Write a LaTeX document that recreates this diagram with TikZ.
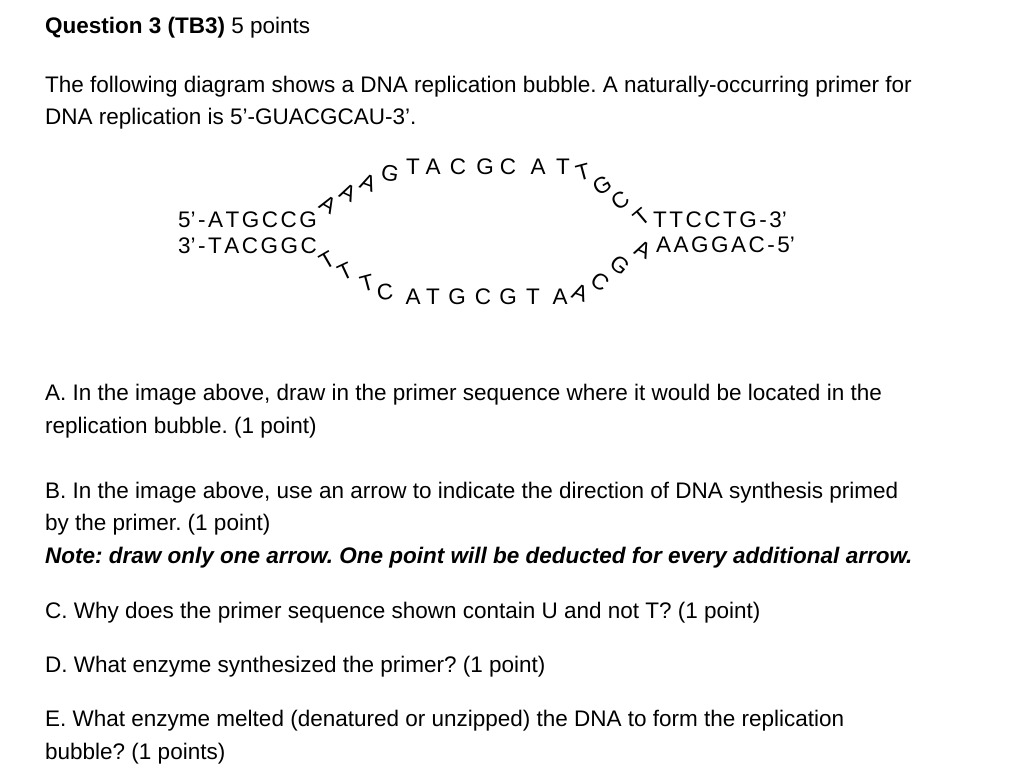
\documentclass[tikz,border=0pt]{standalone}
\usepackage{fontspec}
\setmainfont{Liberation Sans}
\frenchspacing
\begin{document}
\begin{tikzpicture}[x=1pt,y=-1pt,
  body/.style={anchor=base west,inner sep=0pt,font=\fontsize{22.5}{26}\selectfont},
  nt/.style={inner sep=0pt,font=\fontsize{22.5}{26}\selectfont},
  strand/.style={inner sep=0pt,font=\fontsize{22.5}{26}\selectfont}]
\useasboundingbox (0,0) rectangle (1024,783);
\fill[white] (0,0) rectangle (1024,783);
\node[body] (t0) at (45,34) {\textbf{Question 3 (TB3)} 5 points};
\node[body] (t1) at (45,93) {The following diagram shows a DNA replication bubble. A naturally-occurring primer for};
\node[body] (t2) at (45,125) {DNA replication is 5’-GUACGCAU-3’.};
\node[body] (t3) at (45,400) {A. In the image above, draw in the primer sequence where it would be located in the};
\node[body] (t4) at (45,433) {replication bubble. (1 point)};
\node[body] (t5) at (45,498) {B. In the image above, use an arrow to indicate the direction of DNA synthesis primed};
\node[body] (t6) at (45,530) {by the primer. (1 point)};
\node[body] (t7) at (45,563) {\textbf{\itshape Note: draw only one arrow. One point will be deducted for every additional arrow.}};
\node[body] (t8) at (45,618) {C. Why does the primer sequence shown contain U and not T? (1 point)};
\node[body] (t9) at (45,672) {D. What enzyme synthesized the primer? (1 point)};
\node[body] (t10) at (45,726) {E. What enzyme melted (denatured or unzipped) the DNA to form the replication};
\node[body] (t11) at (45,759) {bubble? (1 points)};
% flat strands
\def\sp{\hspace{2.5pt}}
\node[strand,anchor=east] (l1) at (317,220) {5’\sp-\sp A\sp T\sp G\sp C\sp C\sp G};
\node[strand,anchor=east] (l2) at (317,246) {3’\sp-\sp T\sp A\sp C\sp G\sp G\sp C};
\node[strand,anchor=west] (r1) at (653,220) {T\sp T\sp C\sp C\sp T\sp G\sp -\sp 3’};
\node[strand,anchor=west] (r2) at (656,245) {A\sp A\sp G\sp G\sp A\sp C\sp -\sp 5’};
% top arc
\foreach \c/\x/\y/\r [count=\i] in {A/328/205/-30,A/348/193/-25,A/368/183/-20,G/390/173/-10,T/413/167/0,A/433/167/0,C/458/167/0,G/485/167/0,C/508/167/0,A/538/167/0,T/563/167/0,T/583/172/15,G/602/185/30,C/620/200/35,T/642/217/40}
  \node[nt,rotate=\r] (u\i) at (\x,\y) {\c};
% bottom arc
\foreach \c/\x/\y/\r [count=\i] in {T/327/260/30,T/345/272/25,T/367/283/15,C/385/292/5,A/413/297/0,T/433/297/0,G/457/297/0,C/483/297/0,G/508/297/0,T/533/297/0,A/560/297/0,A/580/293/-20,C/600/282/-35,G/620/265/-40,A/643/250/-25}
  \node[nt,rotate=\r] (b\i) at (\x,\y) {\c};
\end{tikzpicture}
\end{document}
